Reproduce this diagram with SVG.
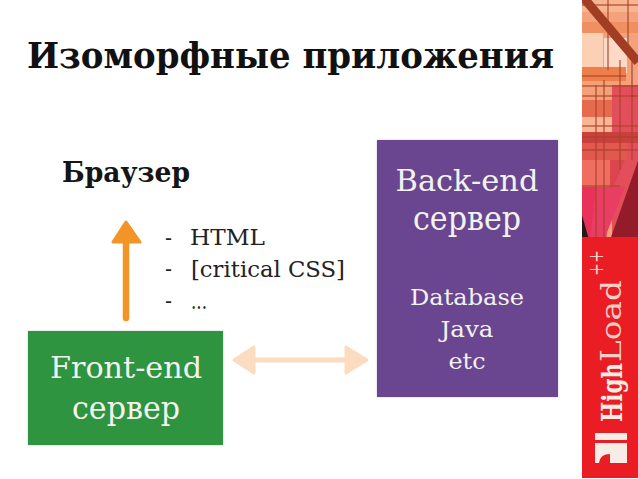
<svg xmlns="http://www.w3.org/2000/svg" width="638" height="479" viewBox="0 0 638 479">
<style>
text{font-family:"DejaVu Serif","Liberation Serif",serif}
.t{text-anchor:middle;fill:#f2f2ee}
.b{font-size:23px;fill:#222}
.l{stroke:#a8402c;stroke-width:1.5;fill:none;opacity:.75}
.arrow-o{fill:#f29426;stroke:#f29426;stroke-width:3;stroke-linejoin:round}
.arrow-p{fill:#fbdcc0;stroke:#fbdcc0;stroke-width:3;stroke-linejoin:round}
</style>
<defs>
<filter id="s" x="-5%" y="-5%" width="110%" height="110%"><feGaussianBlur stdDeviation="1.2"/></filter>
<filter id="soft" x="-5%" y="-5%" width="110%" height="110%"><feGaussianBlur stdDeviation="0.6"/></filter>
<clipPath id="c"><rect x="582" y="0" width="56" height="238"/></clipPath>
</defs>
<rect width="638" height="479" fill="#fff"/>
<text id="title" x="27" y="68" font-size="35" font-weight="700" fill="#111" textLength="527" lengthAdjust="spacingAndGlyphs">Изоморфные приложения</text>
<g id="decor" clip-path="url(#c)"><g filter="url(#soft)">
<rect x="580" y="-5" width="62" height="245" fill="#f4a27c"/>
<rect x="582" y="0" width="56" height="12" fill="#f7b690"/>
<rect x="582" y="22" width="56" height="11" fill="#f09060"/>
<rect x="582" y="33" width="21" height="34" fill="#fcd0b4"/>
<rect x="604" y="38" width="23" height="35" fill="#fddac6"/>
<rect x="582" y="67" width="44" height="14" fill="#ee7f4c"/>
<rect x="582" y="81" width="44" height="19" fill="#f4a078"/>
<rect x="582" y="100" width="44" height="17" fill="#e66a4e"/>
<rect x="582" y="117" width="30" height="15" fill="#f9b594"/>
<path d="M612 85H640V170L612 240Z" fill="#e2505a"/>
<rect x="582" y="132" width="56" height="11" fill="#c9403c"/>
<rect x="582" y="143" width="45" height="17" fill="#e2584e"/>
<rect x="582" y="160" width="28" height="28" fill="#f06e60"/>
<path d="M610 160H625L612 190H610Z" fill="#dc4450"/>
<path d="M582 187H612L606 240H582Z" fill="#e8305a"/>
<path d="M596 187H625L604 240H590Z" fill="#e93d64"/>
<path d="M640 155V240H610Z" fill="#941b2c"/>
<path d="M582 215L589 240H582Z" fill="#2a1418"/>
<path d="M582 -4L638 62" stroke="#a03c22" stroke-width="9" fill="none"/>
<path class="l" d="M582 5H638M582 76H626M582 86H638M582 96H640M582 126H640M582 137H638M582 150H640M582 186H620"/>
<path class="l" d="M608 0V70M628 0V55M596 85V240M604 80V240M620 60V170M632 60V160"/>
</g></g>
<g id="logo">
<rect x="582" y="237" width="56" height="241" fill="#ea1c24"/>
<text transform="translate(622 422) rotate(-90)" font-size="28" font-weight="700" fill="#f8ece6" textLength="59" lengthAdjust="spacingAndGlyphs">High</text>
<text transform="translate(621 362) rotate(-90)" font-size="28" fill="#f6cfc8" textLength="82" lengthAdjust="spacingAndGlyphs">Load</text>
<text transform="translate(603 276) rotate(-90)" font-size="20" fill="#f6cfc8" textLength="26" lengthAdjust="spacingAndGlyphs">++</text>
<path d="M595 433H627V440H595ZM595 443H627V463H610V454Q600 454 599 463H595Z" fill="#f8ece6"/>
</g>
<text id="browser" x="62" y="181.5" font-size="27" font-weight="700" fill="#151515" textLength="128" lengthAdjust="spacingAndGlyphs">Браузер</text>
<g id="list">
<text class="b" x="165" y="245" textLength="7" lengthAdjust="spacingAndGlyphs">-</text><text class="b" x="190" y="245" textLength="75" lengthAdjust="spacingAndGlyphs">HTML</text>
<text class="b" x="165" y="276" textLength="7" lengthAdjust="spacingAndGlyphs">-</text><text class="b" x="191" y="277" textLength="154" lengthAdjust="spacingAndGlyphs">[critical CSS]</text>
<text class="b" x="165" y="308" textLength="7" lengthAdjust="spacingAndGlyphs">-</text><text class="b" x="191" y="309" textLength="16" lengthAdjust="spacingAndGlyphs">...</text>
</g>
<g id="front-end">
<rect x="28" y="331" width="195" height="114" fill="#999" opacity=".5" filter="url(#s)"/>
<rect x="28" y="331" width="195" height="114" fill="#2e9440"/>
<text class="t" x="126" y="378" font-size="30" textLength="152" lengthAdjust="spacingAndGlyphs">Front-end</text>
<text class="t" x="126" y="419" font-size="32" textLength="108" lengthAdjust="spacingAndGlyphs">сервер</text>
</g>
<g id="back-end">
<rect x="377" y="140" width="181" height="257" fill="#999" opacity=".5" filter="url(#s)"/>
<rect x="377" y="140" width="181" height="257" fill="#6a4690"/>
<text class="t" x="467" y="191" font-size="30" textLength="143" lengthAdjust="spacingAndGlyphs">Back-end</text>
<text class="t" x="467" y="230" font-size="33" textLength="108" lengthAdjust="spacingAndGlyphs">сервер</text>
<text class="t" x="467" y="305" font-size="23" textLength="114" lengthAdjust="spacingAndGlyphs">Database</text>
<text class="t" x="467" y="337" font-size="23" textLength="53" lengthAdjust="spacingAndGlyphs">Java</text>
<text class="t" x="467" y="369" font-size="23" textLength="37" lengthAdjust="spacingAndGlyphs">etc</text>
</g>
<g id="connectors">
<path d="M126 318V243" stroke="#f29426" stroke-width="6.5" stroke-linecap="round" fill="none"/>
<path class="arrow-o" d="M126 222L140 242H113Z"/>
<path d="M250 360H350" stroke="#fbdcc0" stroke-width="5" fill="none"/>
<path class="arrow-p" d="M234 360L254 347V373Z"/>
<path class="arrow-p" d="M367 360L346 347V373Z"/>
</g>
</svg>
